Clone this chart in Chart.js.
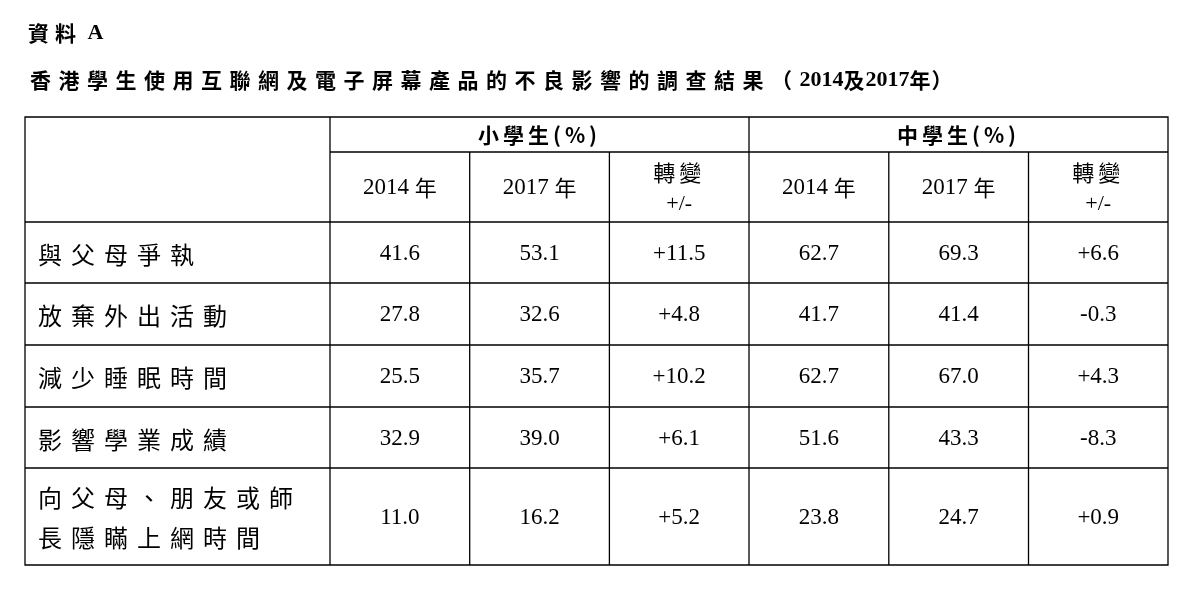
<!DOCTYPE html>
<html>
<head>
<meta charset="utf-8">
<script src="https://cdn.jsdelivr.net/npm/chart.js@4"></script>
<style>
  html, body { margin: 0; padding: 0; background: #fff; }
  #wrap { width: 1200px; height: 592px; }
</style>
</head>
<body>
<div id="wrap"><canvas id="table"></canvas></div>
<script>
// table data
const categories = ['與父母爭執', '放棄外出活動', '減少睡眠時間', '影響學業成績', ['向父母、朋友或師', '長隱瞞上網時間']];
const primary2014 = ['41.6', '27.8', '25.5', '32.9', '11.0'];
const primary2017 = ['53.1', '32.6', '35.7', '39.0', '16.2'];
const primaryChange = ['+11.5', '+4.8', '+10.2', '+6.1', '+5.2'];
const secondary2014 = ['62.7', '41.7', '62.7', '51.6', '23.8'];
const secondary2017 = ['69.3', '41.4', '67.0', '43.3', '24.7'];
const secondaryChange = ['+6.6', '-0.3', '+4.3', '-8.3', '+0.9'];
const groupLabels = ['小學生(%)', '中學生(%)'];
const subLabels = ['2014 年', '2017 年', ['轉變', '+/-'], '2014 年', '2017 年', ['轉變', '+/-']];
const titleParts = [['資料', 'cjk'], [' A', 'serif']];
const subtitleParts = [['香港學生使用互聯網及電子屏幕產品的不良影響的調查結果', 'cjk'], ['（', 'cjk'], ['2014', 'serif'], ['及', 'cjk0'], ['2017', 'serif'], ['年', 'cjk0'], ['）', 'cjk']];

// grid geometry in scale units
const colEdges = [25, 330, 469.7, 609.4, 749, 888.8, 1028.5, 1168];
const rowEdges = [117, 152, 222, 283, 345, 407, 468, 565];

const columns = [primary2014, primary2017, primaryChange, secondary2014, secondary2017, secondaryChange];
const CJK = '"Noto Sans CJK TC", "Noto Sans CJK SC", sans-serif';
const SERIF = '"Liberation Serif", "DejaVu Serif", serif';

function drawParts(c, parts, x, y, spacing) {
  parts.forEach(([txt, kind]) => {
    if (kind === 'serif') { c.font = 'bold 22px ' + SERIF; c.letterSpacing = '0px'; }
    else if (kind === 'cjk0') { c.font = 'bold 21px ' + CJK; c.letterSpacing = '1px'; }
    else { c.font = 'bold 21px ' + CJK; c.letterSpacing = spacing; }
    c.fillText(txt, x, y);
    x += c.measureText(txt).width;
  });
}

const tablePlugin = {
  id: 'tablePlugin',
  beforeDraw(chart) {
    const c = chart.ctx;
    c.save();
    c.fillStyle = '#fff';
    c.fillRect(0, 0, chart.width, chart.height);
    c.restore();
  },
  afterDraw(chart) {
    const c = chart.ctx;
    const xs = chart.scales.x, ys = chart.scales.y;
    const X = v => xs.getPixelForValue(v);
    const Y = v => ys.getPixelForValue(v);
    c.save();
    c.fillStyle = '#000';
    c.textBaseline = 'middle';

    // titles
    c.textAlign = 'left';
    drawParts(c, titleParts, X(28), Y(33), '6px');
    drawParts(c, subtitleParts, X(30), Y(80), '7.5px');

    // grid lines
    c.strokeStyle = '#000';
    c.lineWidth = 1.3;
    c.letterSpacing = '0px';
    c.beginPath();
    c.rect(X(colEdges[0]), Y(rowEdges[0]), X(colEdges[7]) - X(colEdges[0]), Y(rowEdges[7]) - Y(rowEdges[0]));
    c.moveTo(X(colEdges[1]), Y(rowEdges[1])); c.lineTo(X(colEdges[7]), Y(rowEdges[1]));
    for (let r = 2; r < rowEdges.length - 1; r++) {
      c.moveTo(X(colEdges[0]), Y(rowEdges[r])); c.lineTo(X(colEdges[7]), Y(rowEdges[r]));
    }
    [1, 4].forEach(i => { c.moveTo(X(colEdges[i]), Y(rowEdges[0])); c.lineTo(X(colEdges[i]), Y(rowEdges[7])); });
    [2, 3, 5, 6].forEach(i => { c.moveTo(X(colEdges[i]), Y(rowEdges[1])); c.lineTo(X(colEdges[i]), Y(rowEdges[7])); });
    c.stroke();

    // group headers
    c.textAlign = 'center';
    c.font = 'bold 21px ' + CJK;
    c.letterSpacing = '4px';
    c.fillText(groupLabels[0], (X(colEdges[1]) + X(colEdges[4])) / 2, Y(135));
    c.fillText(groupLabels[1], (X(colEdges[4]) + X(colEdges[7])) / 2, Y(135));

    // sub headers
    c.letterSpacing = '0px';
    subLabels.forEach((lab, i) => {
      const cx = (X(colEdges[i + 1]) + X(colEdges[i + 2])) / 2;
      if (Array.isArray(lab)) {
        c.font = '22px ' + CJK;
        c.letterSpacing = '4px';
        c.fillText(lab[0], cx, Y(173));
        c.letterSpacing = '0px';
        c.font = '22px ' + SERIF;
        c.fillText(lab[1], cx, Y(204));
      } else {
        const [num, nian] = lab.split(' ');
        c.font = '23px ' + SERIF;
        const w1 = c.measureText(num + ' ').width;
        c.font = '22px ' + CJK;
        const w2 = c.measureText(nian).width;
        const start = cx - (w1 + w2) / 2;
        c.textAlign = 'left';
        c.font = '23px ' + SERIF;
        c.fillText(num + ' ', start, Y(188));
        c.font = '22px ' + CJK;
        c.fillText(nian, start + w1, Y(188));
        c.textAlign = 'center';
      }
    });

    // body rows
    for (let r = 0; r < categories.length; r++) {
      const top = rowEdges[r + 2], bot = rowEdges[r + 3];
      const mid = (top + bot) / 2;
      c.textAlign = 'left';
      c.font = '24px ' + CJK;
      c.letterSpacing = '9px';
      const cat = categories[r];
      if (Array.isArray(cat)) {
        c.fillText(cat[0], X(38), Y(mid - 19));
        c.fillText(cat[1], X(38), Y(mid + 21));
      } else {
        c.fillText(cat, X(38), Y(mid + 2));
      }
      c.letterSpacing = '0px';
      c.textAlign = 'center';
      c.font = '23px ' + SERIF;
      columns.forEach((col, i) => {
        c.fillText(col[r], (X(colEdges[i + 1]) + X(colEdges[i + 2])) / 2, Y(mid + 1));
      });
    }
    c.restore();
  }
};

new Chart(document.getElementById('table'), {
  type: 'scatter',
  data: { datasets: [{ data: [] }] },
  options: {
    responsive: true,
    maintainAspectRatio: false,
    animation: false,
    layout: { padding: 0 },
    plugins: { legend: { display: false }, tooltip: { enabled: false } },
    scales: {
      x: { type: 'linear', min: 0, max: 1200, display: false },
      y: { type: 'linear', min: 0, max: 592, reverse: true, display: false }
    }
  },
  plugins: [tablePlugin]
});
</script>
</body>
</html>
